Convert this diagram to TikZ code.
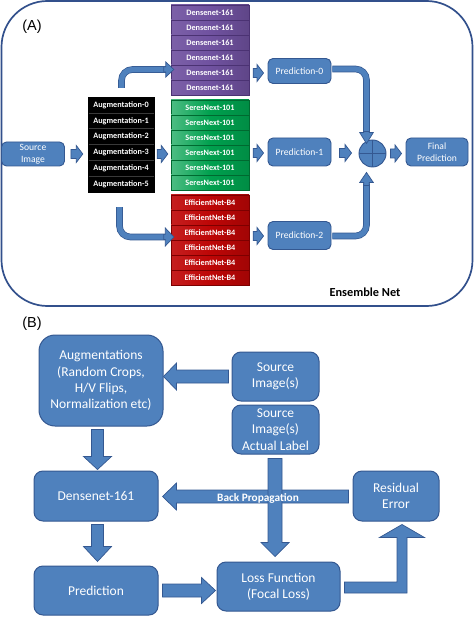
\documentclass[tikz,border=0pt]{standalone}
\usepackage{fontspec}
\setmainfont{Carlito}
\newfontfamily\arialf{Liberation Sans}
\usetikzlibrary{calc}
\definecolor{bfill}{RGB}{79,129,189}
\definecolor{bdraw}{RGB}{52,88,145}
\definecolor{frameblue}{RGB}{50,80,140}
\definecolor{purpF}{RGB}{112,82,160}
\definecolor{purpD}{RGB}{75,50,115}
\definecolor{grnF}{RGB}{0,160,78}
\definecolor{grnD}{RGB}{0,105,48}
\definecolor{redF}{RGB}{190,6,6}
\definecolor{redD}{RGB}{125,0,0}
\tikzset{
  boxA/.style={draw=bdraw, fill=bfill, line width=0.9pt, rounded corners=5pt, text=white,
    align=center, inner sep=0pt, font=\fontsize{9.6}{11.5}\selectfont},
  boxB/.style={draw=bdraw, fill=bfill, line width=1pt, rounded corners=9pt, text=white,
    align=center, inner sep=0pt, font=\fontsize{13.5}{16.4}\selectfont},
  cell/.style={draw=#1, line width=0.6pt, minimum width=78, minimum height=15, inner sep=0pt,
    text=white, font=\bfseries\fontsize{8.2}{9}\selectfont},
  augtext/.style={text=white, inner sep=0pt, font=\bfseries\fontsize{8.2}{9}\selectfont},
  barr/.style={draw=bdraw, fill=bfill, line width=0.7pt, line join=miter},
  shaftO/.style={draw=bdraw, line width=6.6pt, rounded corners=11pt},
  shaftI/.style={draw=bfill, line width=5.2pt, rounded corners=11pt},
}
% block arrow: #2 start, #3 tip, #4 shaft half, #5 head half, #6 head length
\newcommand\barrow[6][]{%
  \coordinate (baS) at #2;
  \coordinate (baT) at #3;
  \coordinate (baH) at ($(baT)!#6!(baS)$);
  \filldraw[barr,#1] ($(baS)!#4!90:(baT)$) -- ($(baH)!#4!90:(baT)$) -- ($(baH)!#5!90:(baT)$)
    -- (baT) -- ($(baH)!#5!-90:(baT)$) -- ($(baH)!#4!-90:(baT)$) -- ($(baS)!#4!-90:(baT)$) -- cycle;
}
\begin{document}
\begin{tikzpicture}[x=1pt,y=-1pt]
\useasboundingbox (0,0) rectangle (474,617);
\fill[white] (0,0) rectangle (474,617);

%% ---------------- Part A ----------------
\draw[frameblue, line width=1.7pt, rounded corners=46pt] (1.5,1) rectangle (472.5,306);
\node[font=\arialf\fontsize{14.5}{16}\selectfont, inner sep=0pt] (labA) at (32,27) {(A)};
\node[font=\bfseries\fontsize{12.3}{14}\selectfont, inner sep=0pt] (ens) at (365,292) {Ensemble Net};

\node[boxA, minimum width=63, minimum height=24] (src) at (33,154) {Source\\Image};

% augmentation column
\node[fill=black, draw=black, minimum width=66, minimum height=95, inner sep=0pt] (aug) at (121,144.5) {};
\foreach \i in {1,...,5}
  \draw[gray!45!black, line width=0.4pt] (88.5,{97+15.83*\i}) -- (153.5,{97+15.83*\i});
\foreach \i/\t in {0/Augmentation-0,1/Augmentation-1,2/Augmentation-2,3/Augmentation-3,4/Augmentation-4,5/Augmentation-5}
  \node[augtext] (aug\i) at (121,{105+15.83*\i}) {\t};

% model columns
\node[minimum width=78, minimum height=90, inner sep=0pt] (den) at (210,50) {};
\node[minimum width=78, minimum height=90, inner sep=0pt] (ser) at (210,145) {};
\node[minimum width=78, minimum height=90, inner sep=0pt] (eff) at (210,240) {};
\foreach \i in {1,...,6}{
  \node[cell=purpD, left color=purpF!92!white, right color=purpF!85!black, middle color=purpF] (den\i) at (210,{-2.5+15*\i}) {Densenet-161};
  \node[cell=grnD, left color=grnF!70!white, right color=grnF!88!black, middle color=grnF] (ser\i) at (210,{92.5+15*\i}) {SeresNext-101};
  \node[cell=redD, left color=redF!90!white, right color=redF!85!black, middle color=redF] (eff\i) at (210,{187.5+15*\i}) {EfficientNet-B4};
}

% predictions
\node[boxA, minimum width=63, minimum height=25] (p0) at (299.5,71) {Prediction-0};
\node[boxA, minimum width=63, minimum height=28] (p1) at (299.5,152) {Prediction-1};
\node[boxA, minimum width=63, minimum height=28] (p2) at (299.5,235.5) {Prediction-2};
\node[draw=bdraw, fill=bfill, line width=0.9pt, circle, minimum size=27, inner sep=0pt] (sum) at (372.5,153.5) {};
\draw[bdraw, line width=0.9pt] (sum.north) -- (sum.south) (sum.west) -- (sum.east);
\node[boxA, minimum width=62, minimum height=28] (fin) at (437,152) {Final\\Prediction};

% small block arrows
\barrow{($(src.east)+(6,0)$)}{($(aug.west |- src.east)+(-5,0)$)}{4.5pt}{8.5pt}{6.5pt}
\barrow{($(aug.east |- src.east)+(3,0)$)}{($(ser.west |- src.east)+(-3,0)$)}{4.5pt}{8.5pt}{6.5pt}
\barrow{($(den.east)+(4,23)$)}{($(p0.west |- den.east)+(-4,23)$)}{4.5pt}{8.5pt}{6.5pt}
\barrow{($(ser.east |- p1.west)+(4,1)$)}{($(p1.west)+(-4,1)$)}{4.5pt}{8.5pt}{6.5pt}
\barrow{($(eff.east |- p2.west)+(4,0.5)$)}{($(p2.west)+(-4,0.5)$)}{4.5pt}{8.5pt}{6.5pt}
\barrow{($(p1.east)+(8,1)$)}{($(sum.west |- p1.east)+(-7,1)$)}{4.5pt}{8.5pt}{6.5pt}
\barrow{($(sum.east)+(4,0)$)}{($(fin.west |- sum.east)+(-4,0)$)}{4.5pt}{8.5pt}{6.5pt}

% curved arrows
\coordinate (ta0) at ($(aug.north)+(0.5,-9)$);
\coordinate (ta1) at ($(den.west)+(-5,19.5)$);
\draw[shaftO] (ta0) |- (ta1);
\draw[shaftI] (ta0) |- (ta1);
\barrow{($(ta1)+(-2,0)$)}{($(den.west)+(3,19.5)$)}{2.6pt}{7.5pt}{8pt}

\coordinate (tb0) at ($(aug.south)+(-1.5,15)$);
\coordinate (tb1) at ($(eff.west)+(-5,-3)$);
\draw[shaftO] (tb0) |- (tb1);
\draw[shaftI] (tb0) |- (tb1);
\barrow{($(tb1)+(-2,0)$)}{($(eff.west)+(3,-3)$)}{2.6pt}{9pt}{8.5pt}

\coordinate (tc0) at ($(p0.east)+(1,-2)$);
\coordinate (tc1) at ($(sum.north)+(-6,-6)$);
\draw[shaftO] (tc0) -| (tc1);
\draw[shaftI] (tc0) -| (tc1);
\barrow{($(tc1)+(0,-2)$)}{($(sum.north)+(-6,4)$)}{2.8pt}{6.8pt}{11pt}

\coordinate (td0) at ($(p2.east)+(1,0.5)$);
\coordinate (td1) at ($(sum.south)+(-6,16)$);
\draw[shaftO] (td0) -| (td1);
\draw[shaftI] (td0) -| (td1);
\barrow{($(td1)+(0,2)$)}{($(sum.south)+(-6,5)$)}{2.8pt}{6.8pt}{10pt}

%% ---------------- Part B ----------------
\node[font=\arialf\fontsize{14.5}{16}\selectfont, inner sep=0pt] (labB) at (32,324) {(B)};
\node[boxB, rounded corners=16pt, minimum width=124, minimum height=91] (augB) at (101,380.5)
  {Augmentations\\(Random Crops,\\H/V Flips,\\Normalization etc)};
\node[boxB, minimum width=87, minimum height=49] (srcB) at (275.5,376.5) {Source\\Image(s)};
\node[boxB, minimum width=87, minimum height=49] (lbl) at (275.5,429.5) {Source\\Image(s)\\Actual Label};
\node[boxB, minimum width=124, minimum height=50] (dn) at (96,496) {Densenet-161};
\node[boxB, minimum width=86, minimum height=50] (res) at (396,496) {Residual\\Error};
\node[boxB, minimum width=124, minimum height=49] (pred) at (96,590.5) {Prediction};
\node[boxB, minimum width=123, minimum height=49] (loss) at (278.5,586.5) {Loss Function\\(Focal Loss)};

\barrow{($(srcB.west)+(-3,0)$)}{(augB.east |- srcB.west)}{6.5pt}{13.5pt}{13pt}
\barrow{($(dn.north |- augB.south)+(1.5,3)$)}{($(dn.north)+(1.5,-1)$)}{6pt}{14pt}{13pt}
\barrow{($(res.west)+(-4,0.5)$)}{($(dn.east)+(4,0.5)$)}{6.5pt}{13.5pt}{14pt}
\barrow{($(lbl.south)+(-0.5,4)$)}{($(lbl.south |- loss.north)+(-0.5,-5)$)}{7pt}{14pt}{14pt}
\barrow{($(dn.south)+(1.5,3)$)}{($(pred.north)+(1.5,-4)$)}{6pt}{14pt}{15pt}
\barrow{($(pred.east)+(4,0)$)}{($(loss.west |- pred.east)+(-1,0)$)}{6.5pt}{13pt}{14pt}

\node[text=white, inner sep=0pt, font=\bfseries\fontsize{11.3}{13}\selectfont] (bp) at (258,498) {Back Propagation};

\coordinate (e0) at ($(loss.east)+(4,1)$);
\coordinate (e1) at ($(res.south)+(6,3)$);
\filldraw[barr] let \p1=(e0), \p2=(e1) in
  (\x1,\y1+5.5pt) -- (\x2-5pt,\y1+5.5pt) -- (\x2-5pt,\y2-13pt) -- (\x2-22.5pt,\y2-13pt) -- (\x2,\y2)
  -- (\x2+22.5pt,\y2-13pt) -- (\x2+5pt,\y2-13pt) -- (\x2+5pt,\y1-5.5pt) -- (\x1,\y1-5.5pt) -- cycle;
\end{tikzpicture}
\end{document}
